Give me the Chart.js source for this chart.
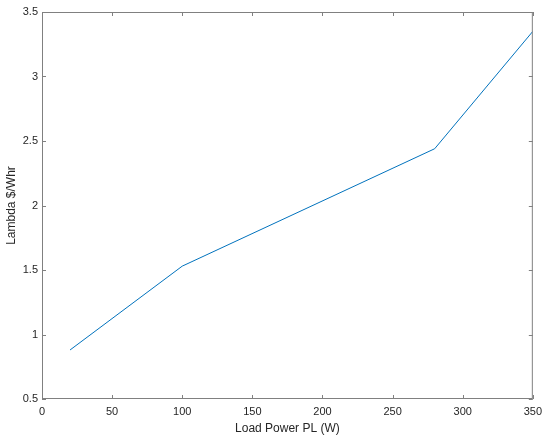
<!DOCTYPE html>
<html lang="en">
<head>
    <meta charset="UTF-8">
    <title>Lambda vs Load Power</title>
    <script src="https://cdn.jsdelivr.net/npm/chart.js@4.4.1/dist/chart.umd.min.js"></script>
    <style>
        html, body { margin: 0; padding: 0; background: #fff; }
        #wrap { width: 548px; height: 440px; }
    </style>
</head>
<body>
    <div id="wrap"><canvas id="chart"></canvas></div>

    <script>
        // values
        const loadPower = [20, 100, 280, 350];
        const lambda = [0.88, 1.53, 2.44, 3.35];

        const xTicks = [0, 50, 100, 150, 200, 250, 300, 350];
        const yTicks = [0.5, 1, 1.5, 2, 2.5, 3, 3.5];

        const axisColor = '#808080';
        const textColor = '#262626';

        // matlab style box with inward ticks
        const boxTicks = {
            id: 'boxTicks',
            afterDraw(chart) {
                const ctx = chart.ctx;
                const a = chart.chartArea;
                const xs = chart.scales.x, ys = chart.scales.y;
                const len = 4;
                ctx.save();
                ctx.strokeStyle = axisColor;
                ctx.lineWidth = 1;
                ctx.strokeRect(a.left + 0.5, a.top + 0.5, a.right - a.left - 1, a.bottom - a.top - 1);
                ctx.beginPath();
                xTicks.forEach(v => {
                    const px = Math.round(xs.getPixelForValue(v)) + 0.5;
                    ctx.moveTo(px, a.bottom); ctx.lineTo(px, a.bottom - len);
                    ctx.moveTo(px, a.top); ctx.lineTo(px, a.top + len);
                });
                yTicks.forEach(v => {
                    const py = Math.round(ys.getPixelForValue(v)) + 0.5;
                    ctx.moveTo(a.left, py); ctx.lineTo(a.left + len, py);
                    ctx.moveTo(a.right, py); ctx.lineTo(a.right - len, py);
                });
                ctx.stroke();
                ctx.restore();
            }
        };

        new Chart(document.getElementById('chart'), {
            type: 'line',
            data: {
                datasets: [{
                    data: loadPower.map((x, i) => ({ x: x, y: lambda[i] })),
                    borderColor: 'rgb(0, 114, 189)',
                    borderWidth: 1,
                    pointRadius: 0,
                    tension: 0,
                    fill: false
                }]
            },
            options: {
                responsive: true,
                maintainAspectRatio: false,
                animation: false,
                layout: { padding: { left: 0, right: 15, top: 12, bottom: 0 } },
                plugins: {
                    legend: { display: false },
                    tooltip: { enabled: false }
                },
                scales: {
                    x: {
                        type: 'linear',
                        min: 0,
                        max: 350,
                        afterBuildTicks: s => { s.ticks = xTicks.map(v => ({ value: v })); },
                        afterFit: s => { s.height = 41; },
                        grid: { display: false, drawTicks: false },
                        border: { display: false },
                        ticks: {
                            padding: 6,
                            color: textColor,
                            font: { family: 'Liberation Sans', size: 11 }
                        },
                        title: {
                            display: true,
                            text: 'Load Power PL (W)',
                            color: textColor,
                            font: { family: 'Liberation Sans', size: 12 },
                            padding: { top: 2, bottom: 4 }
                        }
                    },
                    y: {
                        type: 'linear',
                        min: 0.5,
                        max: 3.5,
                        afterBuildTicks: s => { s.ticks = yTicks.map(v => ({ value: v })); },
                        afterFit: s => { s.width = 42; },
                        grid: { display: false, drawTicks: false },
                        border: { display: false },
                        ticks: {
                            padding: 4,
                            color: textColor,
                            font: { family: 'Liberation Sans', size: 11 },
                            callback: v => String(v)
                        },
                        title: {
                            display: true,
                            text: 'Lambda $/Whr',
                            color: textColor,
                            font: { family: 'Liberation Sans', size: 12 },
                            padding: { top: 4, bottom: 4 }
                        }
                    }
                }
            },
            plugins: [boxTicks]
        });
    </script>
</body>
</html>
